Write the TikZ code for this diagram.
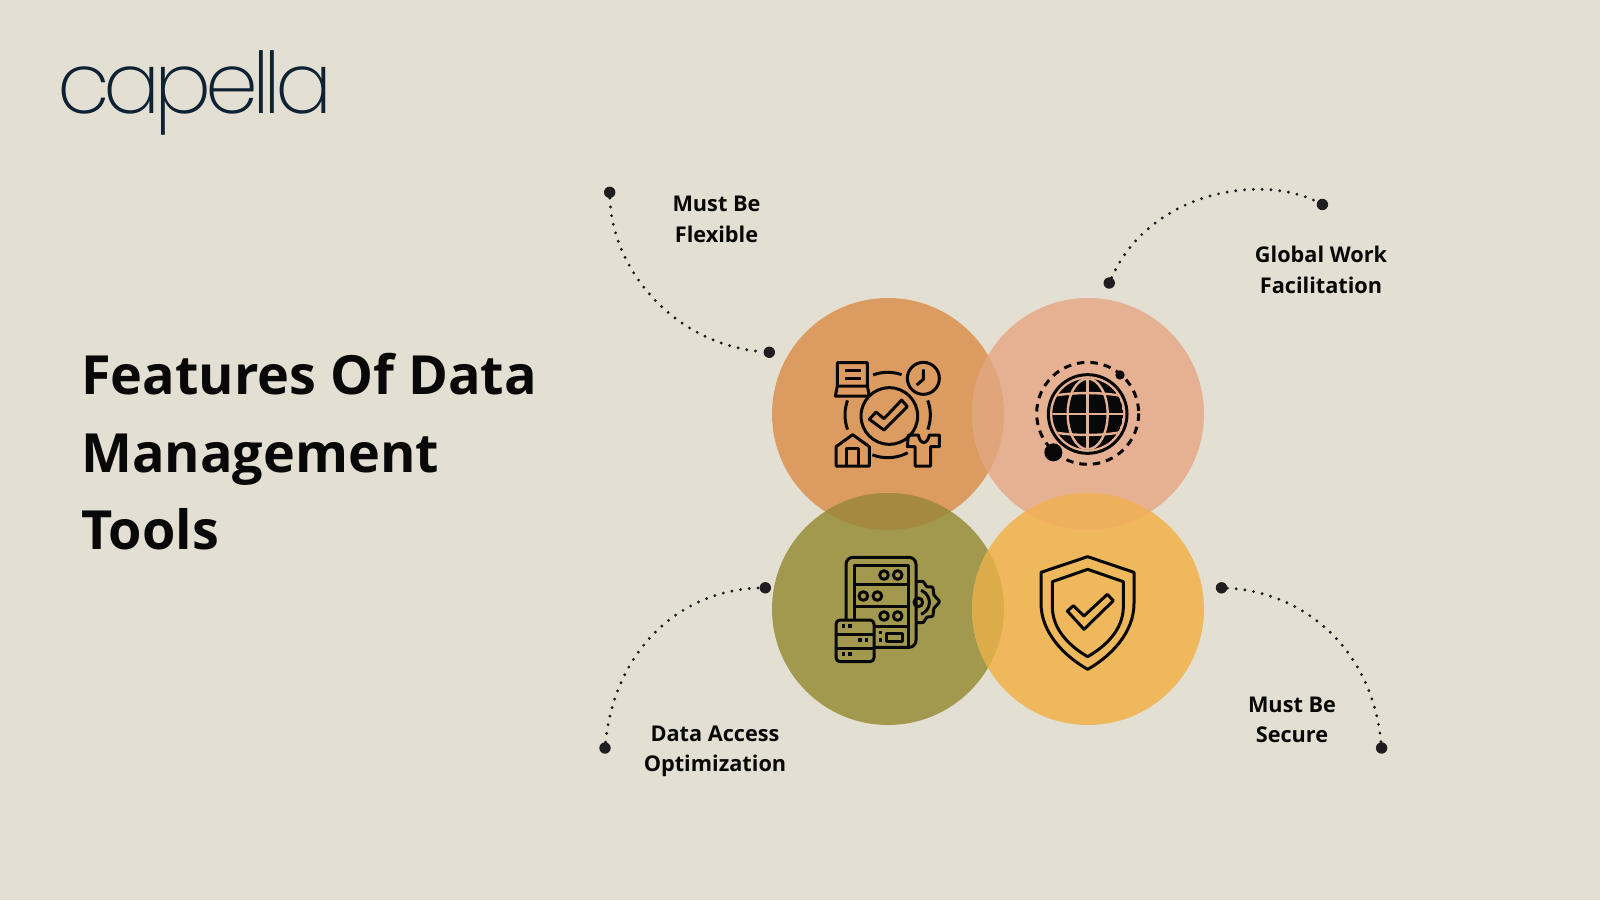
\documentclass[tikz,border=0pt]{standalone}
\usepackage{fontspec}
\setmainfont{Open Sans}
\newfontfamily\logofont{Poppins ExtraLight}[LetterSpace=-7.5]
\definecolor{bg}{HTML}{E3E0D3}
\definecolor{cOrange}{HTML}{DC9B60}
\definecolor{cPeach}{HTML}{E6B093}
\definecolor{cOlive}{HTML}{A2994F}
\definecolor{cYellow}{HTML}{EFB85C}
\definecolor{xTop}{HTML}{E0A57A}
\definecolor{xLeft}{HTML}{A48A40}
\definecolor{xRight}{HTML}{EFB05E}
\definecolor{xBottom}{HTML}{DDAC4A}
\definecolor{ink}{HTML}{080808}
\definecolor{navy}{HTML}{0E2233}
\definecolor{dotc}{HTML}{1F1D1F}
\tikzset{
  bigdot/.style={circle,fill=dotc,inner sep=0pt,minimum size=11.4pt},
  dotline/.style={line width=3.2pt,line cap=round,dash pattern=on 0pt off 8.8pt,dotc},
  lab/.style={align=center,inner sep=0pt,font=\fontsize{21.7}{30.6}\selectfont\bfseries,text=ink},
  ic/.style={line width=3pt,ink,line join=round},
  zoomgrid/.style={x=0.33333pt,y=-0.33333pt}
}
\newcommand{\arcz}[5]{\draw[ic] plot[domain=#4:#5,samples=14,smooth] ({#1+#3*cos(\x)},{#2+#3*sin(\x)});}
\begin{document}
\begin{tikzpicture}[x=1pt,y=-1pt]
\useasboundingbox (0,0) rectangle (1600,900);
\fill[bg] (0,0) rectangle (1600,900);

\node[anchor=base west,inner sep=0pt,text=navy,font=\logofont\fontsize{85}{85}\selectfont] (logo) at (57,113) {capella};

\node[anchor=west,align=left,inner sep=0pt,text=ink,font=\fontsize{54}{77.5}\selectfont\bfseries] (title) at (81,452) {Features Of Data\\Management\\Tools};

% circles
\fill[cOrange] (888,414) circle[radius=116];
\fill[cPeach] (1088,414) circle[radius=116];
\fill[cOlive] (888,609) circle[radius=116];
\fill[cYellow] (1088,609) circle[radius=116];
\begin{scope}\clip (888,414) circle[radius=116]; \fill[xTop] (1088,414) circle[radius=116];\end{scope}
\begin{scope}\clip (888,414) circle[radius=116]; \fill[xLeft] (888,609) circle[radius=116];\end{scope}
\begin{scope}\clip (1088,414) circle[radius=116]; \fill[xRight] (1088,609) circle[radius=116];\end{scope}
\begin{scope}\clip (888,609) circle[radius=116]; \fill[xBottom] (1088,609) circle[radius=116];\end{scope}

% icon 1
\begin{scope}[shift={(810,340)},zoomgrid]
\draw[ic] (82,138) -- (82,68) -- (172,68) -- (172,138) (82,138) -- (172,138) -- (178,168) -- (76,168) -- cycle;
\draw[ic] (105,92) -- (152,92) (105,115) -- (152,115);
\draw[ic] (340,115) circle[radius=48];
\draw[ic] (340,88) -- (340,118) -- (320,135);
\draw[ic] (238,228) circle[radius=85];
\draw[ic] (178,238) -- (198,216) -- (222,236) -- (275,180) -- (292,200) -- (222,270) -- cycle;
\arcz{233}{225}{128}{-110}{-71}
\arcz{233}{225}{128}{160}{200}
\arcz{233}{225}{128}{-20}{20}
\arcz{233}{225}{128}{62}{111}
\draw[ic] (78,320) -- (128,284) -- (178,320) -- (178,378) -- (78,378) -- cycle;
\draw[ic] (110,378) -- (110,325) -- (145,325) -- (145,378);
\draw[ic] (295,285) -- (325,285) .. controls (330,315) and (352,315) .. (358,285) -- (388,285) -- (388,320) -- (362,320) -- (362,378) -- (315,378) -- (315,320) -- (292,320) -- cycle;
\end{scope}

% icon 2
\begin{scope}[shift={(1010,340)},zoomgrid]
\begin{scope}
\clip (233,222) circle[radius=106];
\fill[ink] (233,222) circle[radius=106];
\draw[cPeach,line width=2.4pt] (233,100) -- (233,340) (110,222) -- (350,222);
\draw[cPeach,line width=2.4pt] (233,222) ellipse[x radius=60,y radius=106];
\draw[cPeach,line width=2.4pt] (110,172) .. controls (170,155) and (296,155) .. (350,172);
\draw[cPeach,line width=2.4pt] (110,272) .. controls (170,289) and (296,289) .. (350,272);
\end{scope}
\draw[ic] (233,222) circle[radius=118];
\draw[ic,dash pattern=on 7.5pt off 6pt] (233,220) circle[radius=153];
\fill[ink] (130,337) circle[radius=27];
\fill[ink] (330,105) circle[radius=14];
\end{scope}

% icon 3
\begin{scope}[shift={(810,540)},zoomgrid]
\draw[ic] plot[smooth,tension=0.4] coordinates {(318,125) (340,125) (350,140) (368,142) (372,165) (388,185) (372,205) (368,228) (350,232) (340,247) (318,247)};
\draw[ic] (325,187) circle[radius=13];
\arcz{320}{187}{38}{-70}{70}
\draw[ic,rounded corners=7pt] (108,52) rectangle (318,322);
\draw[ic] (132,240) -- (132,75) -- (295,75) -- (295,322);
\draw[ic] (132,133) -- (295,133) (132,198) -- (295,198) (195,258) -- (295,258);
\foreach \p in {(222,105),(263,105),(160,168),(202,168),(222,228),(263,228)} \draw[ic] \p circle[radius=13];
\foreach \p in {(212,278),(212,300)} \fill[ink] \p ++(-5,-5) rectangle ++(10,10);
\draw[ic] (230,280) rectangle (278,305);
\draw[ic,fill=cOlive,rounded corners=4pt] (78,240) rectangle (192,365);
\draw[ic] (78,283) -- (192,283) (78,325) -- (192,325);
\foreach \p in {(100,258),(120,258),(150,300),(170,300),(100,342),(120,342)} \fill[ink] \p ++(-5,-5) rectangle ++(10,10);
\end{scope}

% icon 4
\begin{scope}[shift={(1010,540)},zoomgrid]
\draw[ic] (233,50) -- (372,97) -- (372,190) .. controls (372,280) and (300,350) .. (233,388) .. controls (166,350) and (93,280) .. (93,190) -- (93,97) -- cycle;
\draw[ic] (233,88) -- (340,125) -- (340,200) .. controls (340,270) and (285,320) .. (233,350) .. controls (181,320) and (127,270) .. (127,200) -- (127,125) -- cycle;
\draw[ic] (172,213) -- (190,197) -- (222,228) -- (292,163) -- (310,182) -- (222,268) -- cycle;
\end{scope}

% connectors
\node[bigdot] (fa) at (609.7,192.3) {};
\node[bigdot] (fb) at (769.3,352.3) {};
\node[bigdot] (ga) at (1109.2,283) {};
\node[bigdot] (gb) at (1322.4,204.5) {};
\node[bigdot] (da) at (605,748) {};
\node[bigdot] (db) at (765.3,587.8) {};
\node[bigdot] (sa) at (1221.5,587.8) {};
\node[bigdot] (sb) at (1381.6,748) {};
\draw[dotline] (fa) .. controls (612,270) and (675,345) .. (fb);
\draw[dotline] (ga) .. controls (1150,192) and (1260,173) .. (gb);
\draw[dotline] (da) .. controls (615,650) and (680,590) .. (db);
\draw[dotline] (sa) .. controls (1305,592) and (1372,650) .. (sb);

\node[lab] (l1) at (716.5,219.5) {Must Be\\Flexible};
\node[lab] (l2) at (1321,270) {Global Work\\Facilitation};
\node[lab] (l3) at (715,751.5) {Data Access\\Optimization};
\node[lab] (l4) at (1292,720) {Must Be\\Secure};
\end{tikzpicture}
\end{document}
